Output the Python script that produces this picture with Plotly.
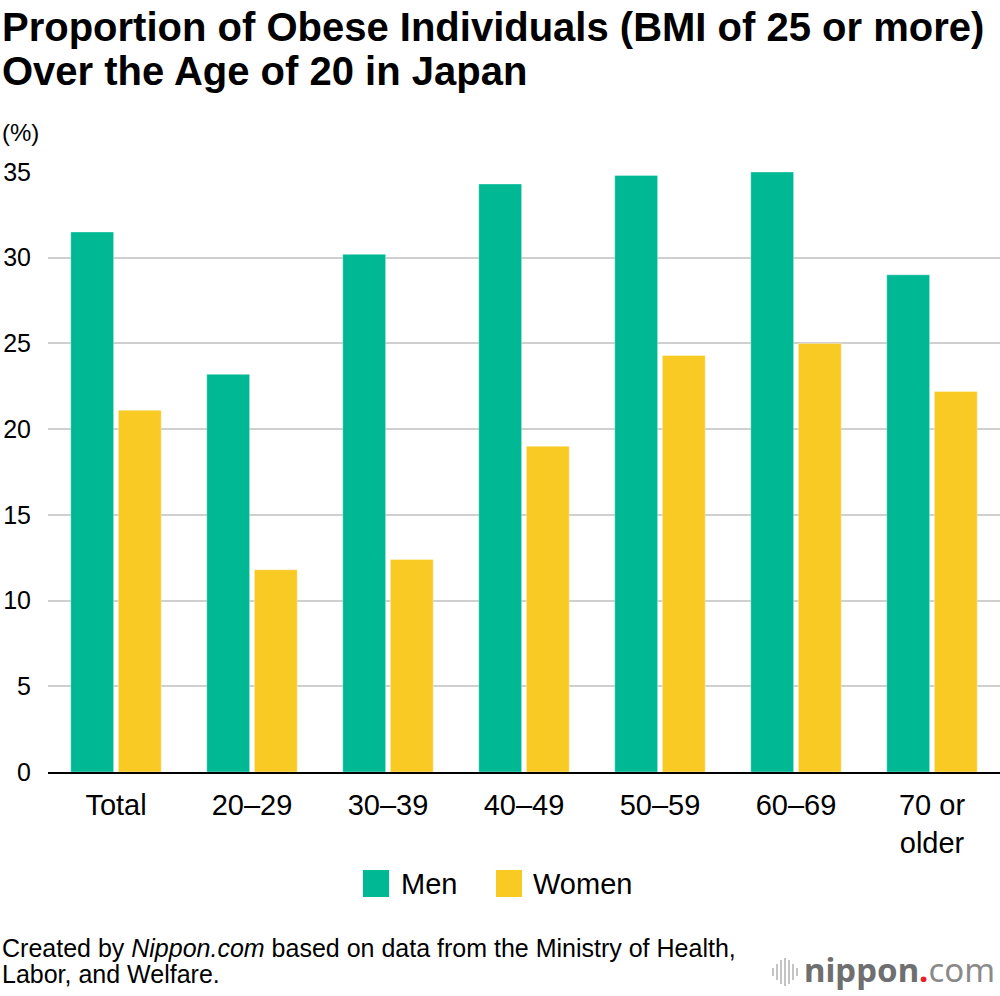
import plotly.graph_objects as go

categories = ["Total", "20–29", "30–39", "40–49", "50–59", "60–69", "70 or<br>older"]
men = [31.5, 23.2, 30.2, 34.3, 34.8, 35.0, 29.0]
women = [21.1, 11.8, 12.4, 19.0, 24.3, 25.0, 22.2]
series_names = ["Men", "Women"]
colors = ["#00b894", "#f9ca24"]
y_ticks = [0, 5, 10, 15, 20, 25, 30, 35]

FONT = "Liberation Sans, Arial, Helvetica, sans-serif"
W, H = 1000, 996
L, R, T, B = 48, 0, 172, 224


def px_x(p):
    return (p - L) / (W - L - R)


def px_y(p):
    return (H - B - p) / (H - T - B)


fig = go.Figure()
for name, vals, col in zip(series_names, [men, women], colors):
    fig.add_trace(go.Bar(
        x=categories, y=vals, name=name,
        marker=dict(color=col, line=dict(color="rgba(255,255,255,0.35)", width=1)),
        showlegend=False, hoverinfo="x+y",
    ))

fig.update_layout(
    width=W, height=H,
    margin=dict(l=L, r=R, t=T, b=B, pad=0),
    paper_bgcolor="white", plot_bgcolor="white",
    barmode="group", bargap=0.3, bargroupgap=0.1,
    font=dict(family=FONT, color="black"),
    xaxis=dict(
        showline=True, linecolor="black", linewidth=2,
        showgrid=False, ticks="", tickfont=dict(size=29),
        ticklabelstandoff=6, fixedrange=True,
    ),
    yaxis=dict(
        range=[0, 35], tickvals=y_ticks, showgrid=True,
        gridcolor="#cfcfcf", gridwidth=2, zeroline=False,
        showline=False, ticks="", tickfont=dict(size=25),
        ticklabelstandoff=16, fixedrange=True,
    ),
)

title_lines = ["Proportion of Obese Individuals (BMI of 25 or more)", "Over the Age of 20 in Japan"]
footer_lines = ["Created by <i>Nippon.com</i> based on data from the Ministry of Health,",
                "Labor, and Welfare."]

annotations = []
for line, py in zip(title_lines, [27, 71]):
    annotations.append(dict(text="<b>" + line + "</b>", x=px_x(0), y=px_y(py), xref="paper", yref="paper",
                            xanchor="left", yanchor="middle", showarrow=False,
                            font=dict(size=40, color="black")))
for line, py in zip(footer_lines, [948, 974]):
    annotations.append(dict(text=line, x=px_x(0), y=px_y(py), xref="paper", yref="paper",
                            xanchor="left", yanchor="middle", showarrow=False,
                            font=dict(size=25, color="black")))
annotations += [
    dict(text="(%)", x=px_x(0), y=px_y(132), xref="paper", yref="paper",
         xanchor="left", yanchor="middle", showarrow=False, font=dict(size=24)),
    dict(text="<b>nippon</b><span style='color:#e8202a'><b>.</b></span><span style='color:#8a8a8a'>com</span>",
         x=px_x(997), y=px_y(969), xref="paper", yref="paper", xanchor="right", yanchor="middle",
         showarrow=False, font=dict(size=33, family="Noto Sans, sans-serif", color="#6f6f6f")),
]

shapes = []
# legend swatches and labels
leg = [(363, 399), (496, 531)]
for (sx, tx), name, col in zip(leg, series_names, colors):
    shapes.append(dict(type="rect", xref="paper", yref="paper",
                       x0=px_x(sx), x1=px_x(sx + 26), y0=px_y(897), y1=px_y(870),
                       fillcolor=col, line=dict(width=0)))
    annotations.append(dict(text=name, x=px_x(tx), y=px_y(884), xref="paper", yref="paper",
                            xanchor="left", yanchor="middle", showarrow=False,
                            font=dict(size=29)))

# logo icon
bars_icon = [(773, 8), (777, 16), (781, 24), (785, 28), (789, 24), (793, 16), (797, 8)]
for bx, bh in bars_icon:
    shapes.append(dict(type="line", xref="paper", yref="paper",
                       x0=px_x(bx), x1=px_x(bx), y0=px_y(972 - bh / 2), y1=px_y(972 + bh / 2),
                       line=dict(color="#c4c4c4", width=2)))

fig.update_layout(annotations=annotations, shapes=shapes)
fig.write_html("out.html", config={"displayModeBar": False},
               post_script="document.body.style.margin='0';")
